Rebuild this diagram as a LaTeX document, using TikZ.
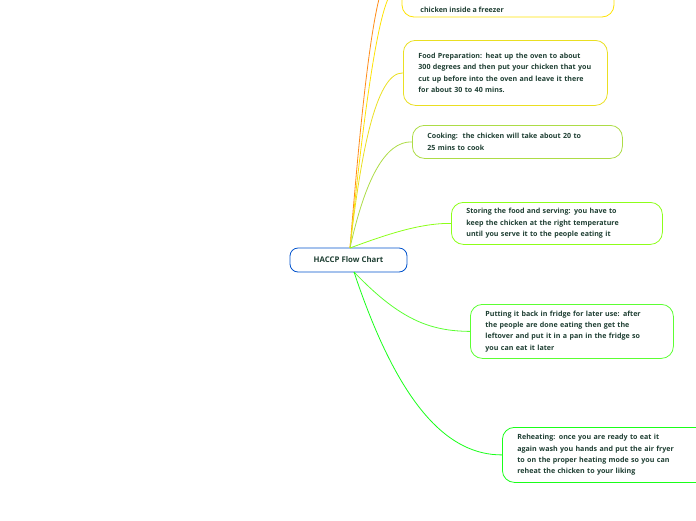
\documentclass[tikz,border=0pt]{standalone}
\usepackage{fontspec}
\setmainfont{Open Sans}
\begin{document}
\begin{tikzpicture}[x=1pt,y=-1pt,
 box/.style={draw,line width=0.8pt,rounded corners=12pt,align=left,anchor=north west,inner xsep=15pt,inner ysep=6pt,text=txt,font=\fontsize{7.1}{11.3}\selectfont\bfseries},
 con/.style={line width=0.8pt}]
\definecolor{txt}{HTML}{1F3F33}
\useasboundingbox (0,0) rectangle (696,520);
\node[draw=blue!60!cyan!80!black,line width=0.8pt,rounded corners=8pt,minimum width=117pt,minimum height=24pt,text=txt,font=\fontsize{7.8}{9}\selectfont\bfseries] (root) at (348.5,260) {HACCP Flow Chart};
\coordinate (r) at (350,248);
\draw[line width=0.8pt,yellow!85!orange,rounded corners=12pt] (402,-30) rectangle (614,17);
\node[box,draw=none,anchor=south west,inner ysep=4pt,inner xsep=18pt] (b1) at (402,17) {chicken inside a freezer};
\node[box,draw=yellow!90!black!95,text width=174pt,minimum width=204pt,minimum height=65pt] (b2) at (403,40) {\raggedright\hyphenpenalty=10000 Food Preparation: heat up the oven to about 300 degrees and then put your chicken that you cut up before into the oven and leave it there for about 30 to 40 mins.};
\node[box,draw=yellow!60!green!80,text width=180pt,minimum width=210pt,minimum height=33pt] (b3) at (412,125) {\raggedright\hyphenpenalty=10000 Cooking:\ \ the chicken will take about 20 to\\ 25 mins to cook};
\node[box,draw=green!50!yellow!90,text width=181pt,minimum width=211pt,minimum height=42pt] (b4) at (451,202) {\raggedright\hyphenpenalty=10000 Storing the food and serving: you have to\\ keep the chicken at the right temperature\\ until you serve it to the people eating it};
\node[box,draw=green!80!yellow!80,text width=173pt,minimum width=203pt,minimum height=54pt] (b5) at (470,304) {\raggedright\hyphenpenalty=10000 Putting it back in fridge for later use: after\\ the people are done eating then get the\\ leftover and put it in a pan in the fridge so\\ you can eat it later};
\node[box,draw=green!90,text width=180pt,minimum width=198pt,minimum height=55pt] (b6) at (502,427) {\raggedright\hyphenpenalty=10000 Reheating: once you are ready to eat it\\ again wash you hands and put the air fryer\\ to on the proper heating mode so you can\\ reheat the chicken to your liking};
\coordinate (o) at (380,-5);
\coordinate (y1) at (390,-5);
\draw[con,orange!90] (r) .. controls (358,150) and (368,40) .. (o);
\draw[con,yellow!85!orange] (r) .. controls (360,150) and (375,20) .. (y1);
\draw[con,yellow!90!black!95] (r) .. controls (360,160) and (375,72) .. (b2.west);
\draw[con,yellow!60!green!80] (r) .. controls (365,180) and (385,141) .. (b3.west);
\draw[con,green!50!yellow!90] (r) .. controls (385,235) and (420,223) .. (b4.west);
\draw[con,green!80!yellow!80] (354,272) .. controls (400,320) and (430,331) .. (b5.west);
\draw[con,green!90] (354,272) .. controls (400,410) and (450,455) .. (b6.west);
\end{tikzpicture}
\end{document}
